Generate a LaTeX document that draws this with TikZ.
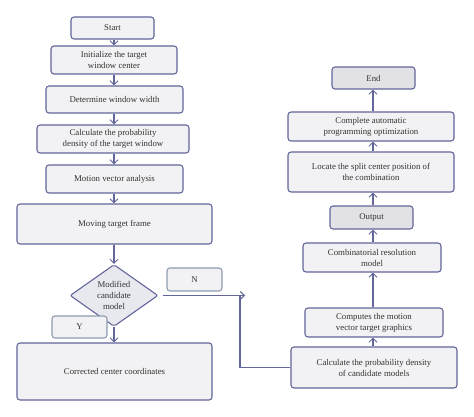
\documentclass[tikz,border=0pt]{standalone}
\usepackage{fontspec}
\setmainfont{Liberation Serif}
\usetikzlibrary{shapes.geometric,arrows.meta}
\definecolor{bc}{HTML}{62669A}
\definecolor{bf}{HTML}{F2F2F4}
\definecolor{df}{HTML}{E8E9EF}
\definecolor{of}{HTML}{E2E2E6}
\definecolor{gc}{HTML}{8E9CAE}
\definecolor{tc}{HTML}{333333}
\tikzset{
  box/.style={draw=bc, fill=bf, rounded corners=3pt, line width=1.1pt, inner sep=0pt, align=center,
    text=tc, font=\fontsize{8.8}{11}\selectfont},
  lbl/.style={box, draw=gc},
  arr/.style={draw=bc, line width=1.1pt, -{Straight Barb[length=4pt,width=8pt,line width=1pt]}},
  ln/.style={draw=bc, line width=1.1pt}
}
\begin{document}
\begin{tikzpicture}[x=1pt,y=-1pt]
\useasboundingbox (0,0) rectangle (474,417);
\coordinate (lx) at (114,0);
\coordinate (rx) at (373,0);
% left column
\node[box, minimum width=83pt, minimum height=22pt] (start) at (112.5,28) {Start};
\node[box, minimum width=126pt, minimum height=28pt] (init) at (114,60) {Initialize the target\\window center};
\node[box, minimum width=137pt, minimum height=27pt] (det) at (114.5,99.5) {Determine window width};
\node[box, minimum width=152pt, minimum height=28pt] (calcl) at (113,139) {Calculate the probability\\density of the target window};
\node[box, minimum width=137pt, minimum height=28pt] (motion) at (114.5,179) {Motion vector analysis};
\node[box, minimum width=195pt, minimum height=40pt] (moving) at (114.5,224) {Moving target frame};
\node[box, diamond, fill=df, rounded corners=2pt, minimum width=88pt, minimum height=53pt] (dia) at (114,295.5) {Modified\\candidate\\model};
\node[box, minimum width=195pt, minimum height=57pt] (corr) at (114.5,371.5) {Corrected center coordinates};
% right column
\node[box, fill=of, minimum width=83pt, minimum height=22pt] (end) at (373.5,78) {End};
\node[box, minimum width=166pt, minimum height=29pt] (compl) at (371,126.5) {Complete automatic\\programming optimization};
\node[box, minimum width=166pt, minimum height=40pt] (locate) at (371,172) {Locate the split center position of\\the combination};
\node[box, fill=of, minimum width=83pt, minimum height=23pt] (output) at (371.5,217.5) {Output};
\node[box, minimum width=138pt, minimum height=29pt] (comb) at (372,257.5) {Combinatorial resolution\\model};
\node[box, minimum width=138pt, minimum height=29pt] (comp) at (374,322.5) {Computes the motion\\vector target graphics};
\node[box, minimum width=166pt, minimum height=41pt] (calcr) at (374,367.5) {Calculate the probability density\\of candidate models};
% left arrows
\draw[arr] (start.south -| lx) -- (init.north -| lx);
\draw[arr] (init.south -| lx) -- (det.north -| lx);
\draw[arr] (det.south -| lx) -- (calcl.north -| lx);
\draw[arr] (calcl.south -| lx) -- (motion.north -| lx);
\draw[arr] (motion.south -| lx) -- (moving.north -| lx);
\draw[arr] (moving.south -| lx) -- (dia.north -| lx);
\draw[arr] (dia.south -| lx) -- (corr.north -| lx);
% labels
\node[lbl, minimum width=55pt, minimum height=22pt] (y) at (79.5,327) {Y};
\node[lbl, minimum width=55pt, minimum height=23pt] (n) at (194.5,279.5) {N};
% N connector
\coordinate (nend) at (245,295.5);
\coordinate (nturn) at (240,295.5);
\draw[arr] ([xshift=4pt]dia.east) -- (nend);
\draw[ln] (calcr.west) -| (nturn);
% right arrows
\draw[arr] (calcr.north -| rx) -- (comp.south -| rx);
\draw[arr] (comp.north -| rx) -- (comb.south -| rx);
\draw[arr] (comb.north -| rx) -- (output.south -| rx);
\draw[arr] (output.north -| rx) -- (locate.south -| rx);
\draw[arr] (locate.north -| rx) -- (compl.south -| rx);
\draw[arr] (compl.north -| rx) -- (end.south -| rx);
\end{tikzpicture}
\end{document}
